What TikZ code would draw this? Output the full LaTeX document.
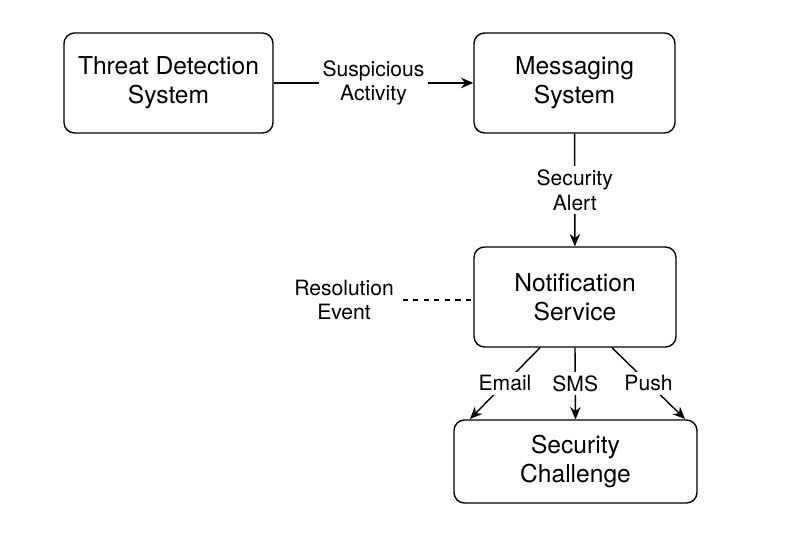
\documentclass[tikz,border=0pt]{standalone}
\usepackage{fontspec}
\setmainfont{TeX Gyre Heros}
\usetikzlibrary{arrows.meta,positioning,calc}

\tikzset{
  box/.style={draw, line width=0.8pt, rounded corners=6pt, align=center, font=\fontsize{14}{16.5}\selectfont},
  lbl/.style={fill=white, align=center, inner sep=2pt, font=\fontsize{12}{14}\selectfont},
  flow/.style={line width=0.8pt, -{Stealth[length=7pt,width=6pt]}}
}

\begin{document}
\begin{tikzpicture}
\useasboundingbox (0,0) rectangle (16,10.66);

% Boxes
\node[box, minimum width=4.18cm, minimum height=2cm] (threat) at (3.37,9.0) {Threat Detection\\System};
\node[box, minimum width=4.02cm, minimum height=2cm] (msg) at (11.49,9.0) {Messaging\\System};
\node[box, minimum width=4.04cm, minimum height=2cm] (notif) at (11.5,4.72) {Notification\\Service};
\node[box, minimum width=4.86cm, minimum height=1.66cm] (chal) at (11.51,1.43) {Security\\Challenge};

% Main flow
\draw[flow] (threat) -- node[lbl] {Suspicious\\Activity} (msg);
\draw[flow] (msg) -- node[lbl] {Security\\Alert} (notif);

% Resolution event
\node[lbl] (res) at (6.88,4.66) {Resolution\\Event};
\draw[line width=0.8pt, dashed] ($(res.east)+(0.1,0)$) -- (notif.west |- res.east);

% Channels
\coordinate (e1) at ($(notif.south)+(-0.7,0)$);
\coordinate (e2) at ($(notif.south)+(0.74,0)$);
\coordinate (c1) at (9.4,2.28);
\coordinate (c3) at (13.7,2.28);
\draw[flow] (e1) -- node[lbl] {Email} (c1);
\draw[flow] (notif.south) -- node[lbl] {SMS} (chal.north);
\draw[flow] (e2) -- node[lbl] {Push} (c3);
\end{tikzpicture}
\end{document}
